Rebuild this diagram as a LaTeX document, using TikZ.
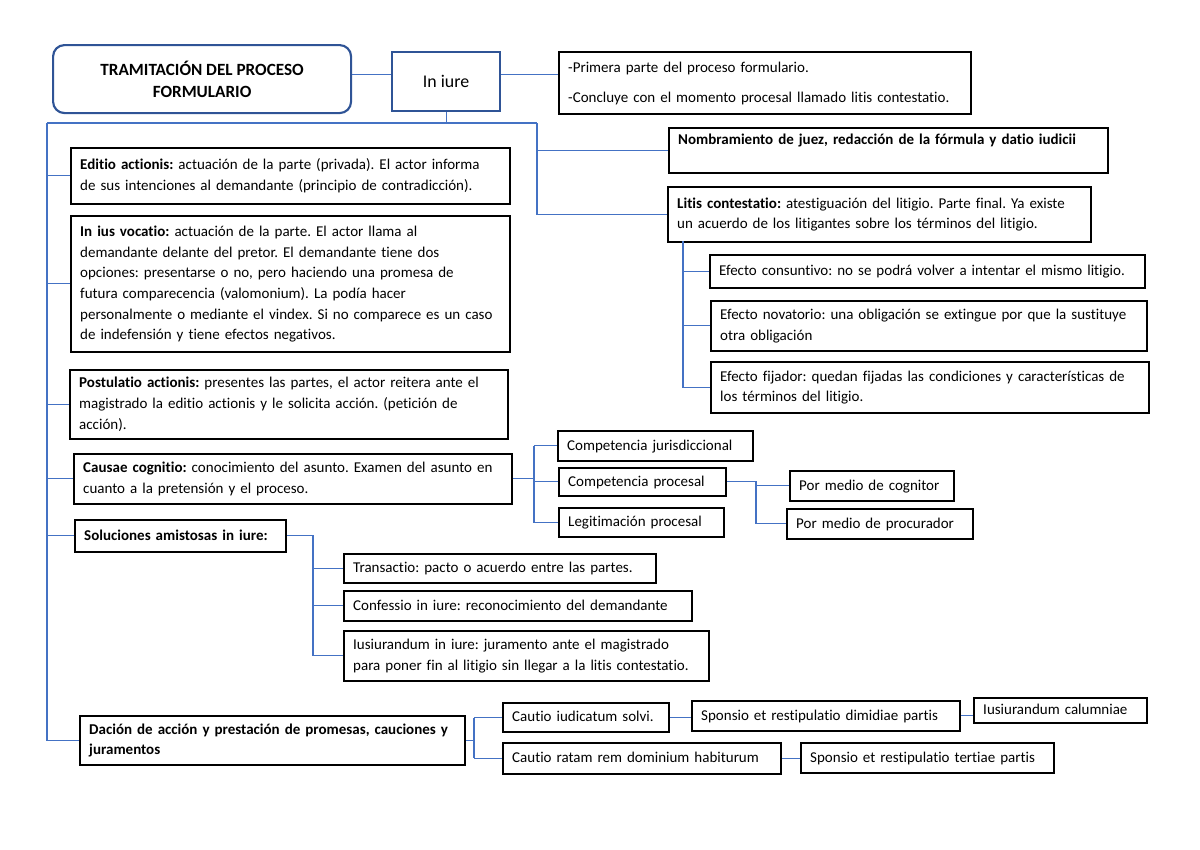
\documentclass[tikz,border=0pt]{standalone}
\usepackage{fontspec}
\setmainfont{Carlito}[Ligatures=NoCommon]
\definecolor{azul}{RGB}{68,114,196}
\definecolor{azulosc}{RGB}{47,84,150}
\newcommand{\lineas}[1]{\begin{tabular}{@{}l@{}}#1\end{tabular}}

\begin{document}
\begin{tikzpicture}[x=0.7pt, y=-0.7pt,
  caja/.style={draw, line width=1.3pt, anchor=north west, align=left, inner xsep=6.5pt, inner ysep=3pt,
    font=\fontsize{10.5}{14.5}\selectfont\frenchspacing},
  titulo/.style={draw=azulosc, line width=1.5pt, anchor=north west, align=center, inner sep=3pt},
  linea/.style={draw=azul, line width=0.75pt}]
\useasboundingbox (0,0) rectangle (1200,849);

\node[titulo, rounded corners=8pt, minimum width=208.6pt, minimum height=47.6pt, font=\fontsize{12}{15.5}\selectfont\bfseries] (titulo) at (52,44) {TRAMITACIÓN DEL PROCESO\\FORMULARIO};
\node[titulo, minimum width=75.6pt, minimum height=41.3pt, font=\fontsize{12.5}{14}\selectfont] (iure) at (391,51) {In iure};
\node[caja, text width=275.4pt, minimum height=43.4pt] (primera) at (558,51) {\lineas{-Primera parte del proceso formulario.\\[6.5pt]-Concluye con el momento procesal llamado litis contestatio.}};

\node[caja, text width=294.3pt, minimum height=31.5pt, inner ysep=1pt] (nombramiento) at (668,127) {\lineas{\textbf{Nombramiento de juez, redacción de la fórmula y datio iudicii}\\ \mbox{}}};
\node[caja, text width=283.1pt, minimum height=38.5pt] (litis) at (667,186) {\lineas{\textbf{Litis contestatio:} atestiguación del litigio. Parte final. Ya existe\\un acuerdo de los litigantes sobre los términos del litigio.}};
\node[caja, text width=291.5pt, minimum height=23.1pt] (consuntivo) at (709,254) {\lineas{Efecto consuntivo: no se podrá volver a intentar el mismo litigio.}};
\node[caja, text width=292.2pt, minimum height=35pt] (novatorio) at (710,300) {\lineas{Efecto novatorio: una obligación se extingue por que la sustituye\\otra obligación}};
\node[caja, text width=293.6pt, minimum height=35.7pt] (fijador) at (710,361) {\lineas{Efecto fijador: quedan fijadas las condiciones y características de\\los términos del litigio.}};

\node[caja, text width=294.3pt, minimum height=39.2pt] (editio) at (70,147) {\lineas{\textbf{Editio actionis:} actuación de la parte (privada). El actor informa\\de sus intenciones al demandante (principio de contradicción).}};
\node[caja, text width=294.3pt, minimum height=95.2pt] (vocatio) at (70,215) {\lineas{\textbf{In ius vocatio:} actuación de la parte. El actor llama al\\demandante delante del pretor. El demandante tiene dos\\opciones: presentarse o no, pero haciendo una promesa de\\futura comparecencia (valomonium). La podía hacer\\personalmente o mediante el vindex. Si no comparece es un caso\\de indefensión y tiene efectos negativos.}};
\node[caja, text width=293.6pt, minimum height=48.3pt, inner ysep=2pt] (postulatio) at (69,369) {\lineas{\textbf{Postulatio actionis:} presentes las partes, el actor reitera ante el\\magistrado la editio actionis y le solicita acción. (petición de\\acción).}};
\node[caja, text width=293.6pt, minimum height=35pt] (causae) at (73,453) {\lineas{\textbf{Causae cognitio:} conocimiento del asunto. Examen del asunto en\\cuanto a la pretensión y el proceso.}};
\node[caja, text width=134.7pt, minimum height=22.4pt] (soluciones) at (74,519) {\lineas{\textbf{Soluciones amistosas in iure:}}};

\node[caja, text width=123.5pt, minimum height=21pt] (jurisd) at (557,430) {\lineas{Competencia jurisdiccional}};
\node[caja, text width=103.9pt, minimum height=19.6pt, inner ysep=2pt] (procesal) at (558,467) {\lineas{Competencia procesal}};
\node[caja, text width=102.5pt, minimum height=20.3pt] (legit) at (558,507) {\lineas{Legitimación procesal}};
\node[caja, text width=101.8pt, minimum height=21pt] (cognitor) at (789,470) {\lineas{Por medio de cognitor}};
\node[caja, text width=117.2pt, minimum height=21pt] (procurador) at (786,508) {\lineas{Por medio de procurador}};

\node[caja, text width=205.4pt, minimum height=20.3pt] (transactio) at (343,553) {\lineas{Transactio: pacto o acuerdo entre las partes.}};
\node[caja, text width=230.6pt, minimum height=21pt] (confessio) at (343,590) {\lineas{Confessio in iure: reconocimiento del demandante}};
\node[caja, text width=242.5pt, minimum height=35pt] (iusiur) at (343,630) {\lineas{Iusiurandum in iure: juramento ante el magistrado\\para poner fin al litigio sin llegar a la litis contestatio.}};

\node[caja, text width=256.5pt, minimum height=34.3pt, inner ysep=2pt] (dacion) at (79,715) {\lineas{\textbf{Dación de acción y prestación de promesas, cauciones y}\\\textbf{juramentos}}};
\node[caja, text width=103.2pt, minimum height=20.3pt] (iudicatum) at (502,702) {\lineas{Cautio iudicatum solvi.}};
\node[caja, text width=174.6pt, minimum height=21pt] (dimidiae) at (691,700) {\lineas{Sponsio et restipulatio dimidiae partis}};
\node[caja, text width=108.1pt, minimum height=17.5pt, inner ysep=1pt] (calumniae) at (973,697) {\lineas{Iusiurandum calumniae}};
\node[caja, text width=181.6pt, minimum height=21.7pt] (ratam) at (502,742) {\lineas{Cautio ratam rem dominium habiturum}};
\node[caja, text width=164.1pt, minimum height=21pt] (tertiae) at (800,742) {\lineas{Sponsio et restipulatio tertiae partis}};

\coordinate (bi) at (47,123);
\coordinate (bd) at (537,123);
\coordinate (li) at (683,241);
\coordinate (ca) at (534,478);
\coordinate (pr) at (756,481);
\coordinate (so) at (313,535);
\coordinate (da) at (474,739);

\path[linea] ([yshift=5pt]iure.west) -- ([yshift=5pt]iure.west -| titulo.east);
\path[linea] ([yshift=5pt]iure.east) -- ([yshift=5pt]iure.east -| primera.west);
\path[linea] (iure.south) -- (iure.south |- bi);
\path[linea] (bi) -- (bd);
\path[linea] (bi) |- (dacion.west);
\path[linea] (bd) |- (litis.west);
\path[linea] (nombramiento.west) -- (nombramiento.west -| bd);
\foreach \n in {editio,vocatio,postulatio,causae,soluciones}
  \path[linea] (\n.west) -- (\n.west -| bi);

\path[linea] (li) |- (fijador.west);
\foreach \n in {consuntivo,novatorio}
  \path[linea] (\n.west) -- (\n.west -| li);

\path[linea] (causae.east) -- (causae.east -| ca);
\path[linea] (ca |- jurisd.west) -- (ca |- legit.west);
\foreach \n in {jurisd,procesal,legit}
  \path[linea] (\n.west) -- (\n.west -| ca);
\path[linea] (procesal.east) -- (procesal.east -| pr) |- (procurador.west);
\path[linea] (cognitor.west) -- (cognitor.west -| pr);

\path[linea] (soluciones.east) -- (soluciones.east -| so) |- (iusiur.west);
\foreach \n in {transactio,confessio}
  \path[linea] (\n.west) -- (\n.west -| so);

\path[linea] (dacion.east) -- (dacion.east -| da);
\path[linea] (da |- iudicatum.west) -- (da |- ratam.west);
\foreach \n in {iudicatum,ratam}
  \path[linea] (\n.west) -- (\n.west -| da);
\path[linea] (iudicatum.east) -- (iudicatum.east -| dimidiae.west);
\path[linea] (dimidiae.east) -- (dimidiae.east -| calumniae.west);
\path[linea] (ratam.east) -- (ratam.east -| tertiae.west);
\end{tikzpicture}
\end{document}
